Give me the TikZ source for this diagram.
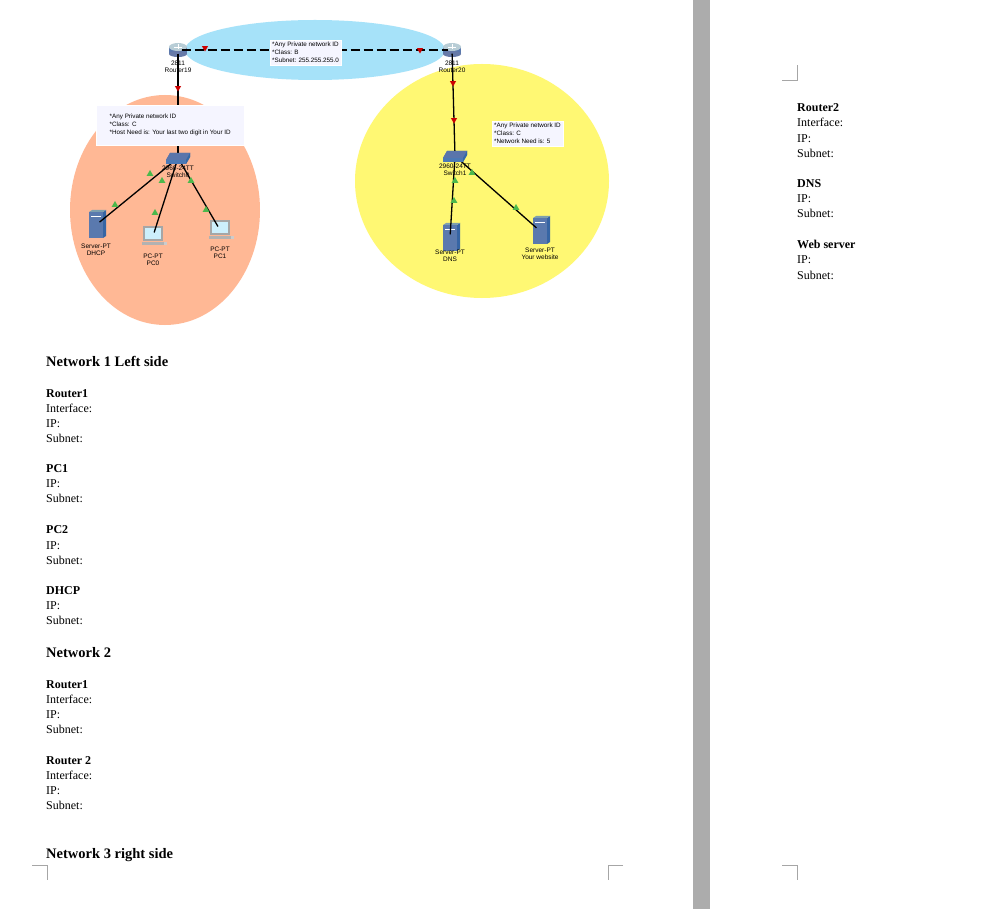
\documentclass[tikz,border=0pt]{standalone}
\usepackage{fontspec}
\setmainfont{Liberation Serif}
\newfontfamily\arial{Liberation Sans}
\begin{document}
\begin{tikzpicture}[x=1pt,y=-1pt,
  body/.style={anchor=base west,inner sep=0,font=\fontsize{12}{12}\selectfont},
  head/.style={anchor=base west,inner sep=0,font=\fontsize{12}{12}\selectfont\bfseries},
  bighead/.style={anchor=base west,inner sep=0,font=\fontsize{14.5}{14}\selectfont\bfseries},
  lbl/.style={inner sep=0,font=\arial\fontsize{6.5}{7.5}\selectfont,align=center},
  note/.style={draw=white,fill=white!96!blue,inner sep=2pt,font=\arial\fontsize{6.3}{8}\selectfont,align=left},
  link/.style={line width=1.3pt,black},
  redtri/.style={fill=red!80!black,draw=none,regular polygon,regular polygon sides=3,shape border rotate=180,minimum size=7pt,inner sep=0},
  greentri/.style={fill=green!60!black!70,draw=none,regular polygon,regular polygon sides=3,minimum size=8pt,inner sep=0},
  cornermark/.style={draw=gray!70,line width=0.5pt}]
\usetikzlibrary{shapes.geometric}
\useasboundingbox (0,0) rectangle (987,909);
\fill[white] (0,0) rectangle (987,909);
\fill[gray!65] (693,0) rectangle (710,909);
% corner marks
\draw[cornermark] (32,865) -- (47,865) -- (47,880);
\draw[cornermark] (623,865) -- (608,865) -- (608,880);
\draw[cornermark] (782,80) -- (797,80) -- (797,65);
\draw[cornermark] (782,865) -- (797,865) -- (797,880);
% zones
\fill[cyan!35] (315,50) ellipse [x radius=130,y radius=30];
\fill[orange!55!red!35!white!90!orange] (165,210) ellipse [x radius=95,y radius=115];
\fill[yellow!55] (482,181) ellipse [x radius=127,y radius=117];
% devices
\tikzset{router/.pic={\fill[cyan!45!blue!60!gray] (-9,-3) rectangle (9,4); \fill[cyan!40!blue!50!gray] (0,4) ellipse [x radius=9,y radius=3]; \fill[cyan!30!gray!50] (0,-3) ellipse [x radius=9,y radius=4]; \draw[white,thin] (-4,-3)--(4,-3) (0,-5.5)--(0,-0.5);},
  switchic/.pic={\fill[cyan!40!blue!60!gray] (-12,2) -- (8,2) -- (12,-5) -- (-8,-5) -- cycle; \fill[cyan!50!blue!70!gray] (-12,2) rectangle (8,6); \fill[cyan!50!blue!80!black] (8,2) -- (12,-5) -- (12,-1) -- (8,6) -- cycle;},
  serveric/.pic={\fill[cyan!45!blue!60!gray] (-7,-13) rectangle (7,13); \fill[cyan!45!blue!80!black] (7,-13) -- (10,-15) -- (10,11) -- (7,13) -- cycle; \fill[cyan!30!gray] (-7,-13) -- (-4,-15) -- (10,-15) -- (7,-13) -- cycle; \draw[white] (-5,-9) -- (5,-9);},
  pcic/.pic={\fill[gray!70] (-10,-10) rectangle (10,5); \fill[cyan!20] (-8,-8) rectangle (8,3); \fill[gray!60] (-11,6) rectangle (11,9); \fill[gray!40] (11,6) rectangle (14,9);}}
\node (r19) at (178,50) {}; \pic at (178,50) {router};
\node (r20) at (452,50) {}; \pic at (452,50) {router};
\node (sw0) at (178,158) {}; \pic at (178,158) {switchic};
\node (sw1) at (455,156) {}; \pic at (455,156) {switchic};
\node (dhcp) at (96,225) {}; \pic at (96,225) {serveric};
\node (pc0) at (153,236) {}; \pic at (153,236) {pcic};
\node (pc1) at (220,230) {}; \pic at (220,230) {pcic};
\node (dns) at (450,238) {}; \pic at (450,238) {serveric};
\node (web) at (540,231) {}; \pic at (540,231) {serveric};
% links
\draw[link,dashed,dash pattern=on 9pt off 4pt] (r19) -- (r20);
\draw[link] (r19) -- (sw0);
\draw[link] (r20) -- (sw1);
\draw[link] (sw0) -- (dhcp);
\draw[link] (sw0) -- (pc0);
\draw[link] (sw0) -- (pc1);
\draw[link] (sw1) -- (dns);
\draw[link] (sw1) -- (web);
\pic at (178,158) {switchic}; \pic at (455,156) {switchic};
\foreach \p in {(205,48),(420,50),(178,88),(453,83),(454,120)} \node[redtri] at \p {};
\foreach \p in {(150,174),(115,205),(162,181),(155,213),(191,181),(206,210),(455,181),(454,201),(472,173),(516,208)} \node[greentri] at \p {};
% labels
\node[lbl] (r19l) at (178,67) {2811\\Router19};
\node[lbl] (r20l) at (452,67) {2811\\Router20};
\node[lbl] (sw0l) at (178,172) {2960-24TT\\Switch0};
\node[lbl] (sw1l) at (455,170) {2960-24TT\\Switch1};
\node[lbl] (dhcpl) at (96,250) {Server-PT\\DHCP};
\node[lbl] (pc0l) at (153,260) {PC-PT\\PC0};
\node[lbl] (pc1l) at (220,253) {PC-PT\\PC1};
\node[lbl] (dnsl) at (450,256) {Server-PT\\DNS};
\node[lbl] (webl) at (540,254) {Server-PT\\Your website};
\node[note,anchor=north west] (n1) at (270,40) {*Any Private network ID\\*Class: B\\*Subnet: 255.255.255.0};
\node[note,anchor=north west,minimum width=148pt,minimum height=40pt] (n2) at (96,105) {*Any Private network ID\\*Class: C\\*Host Need is: Your last two digit in Your ID};
\node[note,anchor=north west] (n3) at (492,121) {*Any Private network ID\\*Class: C\\*Network Need is: 5};
% text left page
\node[bighead] (t1) at (46,366) {Network 1 Left side};
\node[head] (t2) at (46,397) {Router1};
\node[body] (t3) at (46,412) {Interface:};
\node[body] (t4) at (46,427) {IP:};
\node[body] (t5) at (46,442) {Subnet:};
\node[head] (t6) at (46,472) {PC1};
\node[body] (t7) at (46,487) {IP:};
\node[body] (t8) at (46,502) {Subnet:};
\node[head] (t9) at (46,533) {PC2};
\node[body] (t10) at (46,549) {IP:};
\node[body] (t11) at (46,564) {Subnet:};
\node[head] (t12) at (46,594) {DHCP};
\node[body] (t13) at (46,609) {IP:};
\node[body] (t14) at (46,624) {Subnet:};
\node[bighead] (t15) at (46,657) {Network 2};
\node[head] (t16) at (46,688) {Router1};
\node[body] (t17) at (46,703) {Interface:};
\node[body] (t18) at (46,718) {IP:};
\node[body] (t19) at (46,733) {Subnet:};
\node[head] (t20) at (46,764) {Router 2};
\node[body] (t21) at (46,779) {Interface:};
\node[body] (t22) at (46,794) {IP:};
\node[body] (t23) at (46,809) {Subnet:};
\node[bighead] (t24) at (46,858) {Network 3 right side};
% right page
\node[head] (u1) at (797,112) {Router2};
\node[body] (u2) at (797,127) {Interface:};
\node[body] (u3) at (797,143) {IP:};
\node[body] (u4) at (797,158) {Subnet:};
\node[head] (u5) at (797,188) {DNS};
\node[body] (u6) at (797,203) {IP:};
\node[body] (u7) at (797,218) {Subnet:};
\node[head] (u8) at (797,248) {Web server};
\node[body] (u9) at (797,264) {IP:};
\node[body] (u10) at (797,279) {Subnet:};
\end{tikzpicture}
\end{document}
